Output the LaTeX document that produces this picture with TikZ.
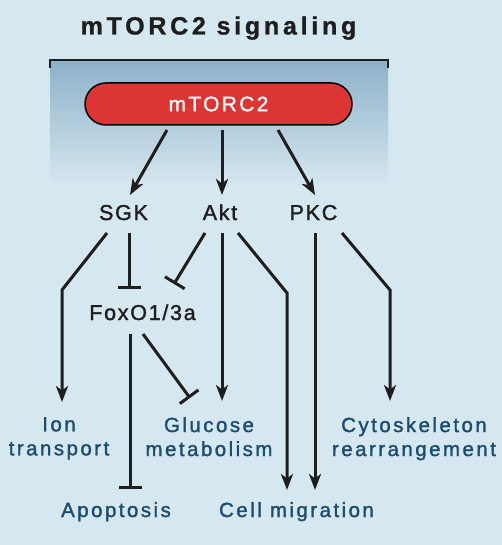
\documentclass[tikz,border=0pt]{standalone}
\usepackage{fontspec}
\setmainfont{Liberation Sans}
\newfontfamily\lblfont[LetterSpace=12,FakeBold=1.5]{Liberation Sans}
\newfontfamily\midfont[LetterSpace=8,FakeBold=1.5]{Liberation Sans}
\newfontfamily\pillfont[LetterSpace=11,FakeBold=1.2]{Liberation Sans}
\newfontfamily\ttlfont[LetterSpace=15,FakeBold=1]{Liberation Sans}
\usetikzlibrary{arrows.meta}
\definecolor{bg}{RGB}{213,231,239}
\definecolor{gradtop}{RGB}{141,177,201}
\definecolor{pillred}{RGB}{221,52,52}
\definecolor{lblblue}{RGB}{28,76,112}
\definecolor{ink}{RGB}{30,30,30}
\begin{document}
\begin{tikzpicture}[x=1pt,y=-1pt,
  conn/.style={line width=3pt,draw=ink},
  arr/.style={conn,-{Stealth[length=16pt,width=12pt,inset=4.5pt]}},
  inh/.style={conn,-{Bar[width=23pt]}},
  outcome/.style={inner sep=0pt,text=lblblue,align=center,
    font=\lblfont\fontsize{20.5}{24}\selectfont},
  kinase/.style={inner sep=0pt,anchor=base,text=ink,
    font=\midfont\fontsize{21.5}{22}\selectfont},
  pill/.style={draw=black,line width=1.5pt,fill=pillred,rounded corners=21pt,
    minimum width=267pt,minimum height=42pt,inner sep=0pt,text=white,
    font=\pillfont\fontsize{21}{22}\selectfont}
]
\useasboundingbox (0,0) rectangle (502,545);
\fill[bg] (0,0) rectangle (502,545);
\shade[top color=gradtop,bottom color=bg] (50,60) rectangle (388,185);
\draw[line width=2pt,ink] (50,68) -- (50,60) -- (388,60) -- (388,68);

\node[inner sep=0pt,anchor=base,text=ink,font=\ttlfont\bfseries\fontsize{25}{26}\selectfont] (title) at (218.5,34.5) {mTORC2 signaling};
\node[pill] (mtorc) at (218.5,104) {mTORC2};

\node[kinase] (sgk) at (123.5,220) {SGK};
\node[kinase] (akt) at (220,220) {Akt};
\node[kinase] (pkc) at (313.5,220) {PKC};
\node[kinase] (fox) at (142.5,320) {FoxO1/3a};

\node[outcome,anchor=north] (ion) at (59,417) {Ion\\transport};
\node[outcome,anchor=north] (glu) at (209,417) {Glucose\\metabolism};
\node[outcome,anchor=north] (cyto) at (414,417) {Cytoskeleton\\rearrangement};
\node[outcome,anchor=base] (apo) at (116,517) {Apoptosis};
\node[outcome,anchor=base] (cell) at (296.5,517) {Cell migration};

% named connector ends
\coordinate (m1) at (167,130); \coordinate (m2) at (222,130); \coordinate (m3) at (278,130);
\coordinate (sgkin) at (130,195); \coordinate (aktin) at (222,195); \coordinate (pkcin) at (315,195);
\coordinate (ionin) at (62,402); \coordinate (gluin) at (222,401); \coordinate (cytoin) at (390,401);
\coordinate (cellinA) at (287,490); \coordinate (cellinB) at (315,490);
\coordinate (foxinA) at (129,289); \coordinate (foxinB) at (174,284);
\coordinate (apoin) at (130,489); \coordinate (gluinB) at (190,398);

\draw[arr] (m1) -- (sgkin);
\draw[arr] (m2) -- (aktin);
\draw[arr] (m3) -- (pkcin);

\draw[arr] (107,233) -- (62,290) -- (ionin);
\draw[inh] (129,233) -- (foxinA);
\draw[inh] (205,233) -- (foxinB);
\draw[arr] (222,233) -- (gluin);
\draw[arr] (238,233) -- (287,293) -- (cellinA);
\draw[arr] (315,233) -- (cellinB);
\draw[arr] (342,233) -- (390,290) -- (cytoin);
\draw[inh] (130,334) -- (apoin);
\draw[inh] (143,334) -- (gluinB);
\end{tikzpicture}
\end{document}
